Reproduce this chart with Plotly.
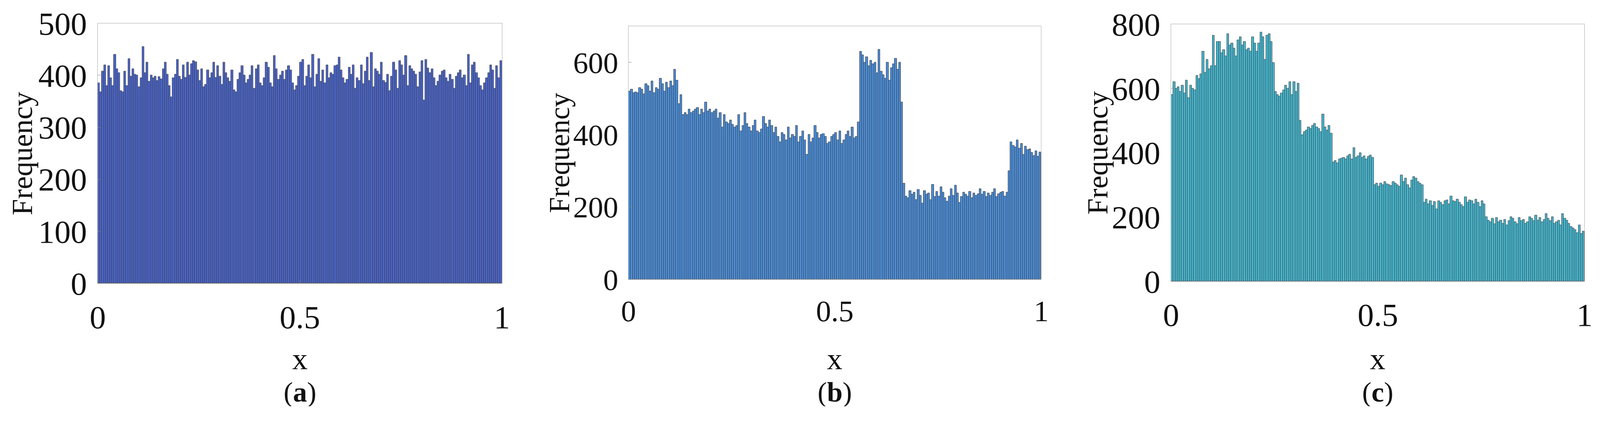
import numpy as np
import plotly.graph_objects as go

a_vals = [385,368,408,420,380,418,395,380,440,412,405,370,368,408,380,432,398,412,402,400,378,395,455,405,425,388,400,395,398,390,397,393,412,425,402,380,358,395,402,430,398,392,420,396,425,400,422,428,426,410,390,412,378,382,410,395,405,425,396,418,398,382,425,405,395,388,410,372,368,392,405,418,400,385,392,400,418,375,412,420,385,380,395,425,415,385,378,438,412,392,400,408,392,410,418,410,385,372,380,398,425,430,380,398,420,395,440,378,402,432,388,410,385,420,395,405,402,418,420,435,410,395,385,392,415,402,420,375,395,390,420,384,408,435,390,444,378,412,408,402,425,390,386,402,370,398,425,410,375,428,420,400,438,380,418,412,408,402,378,406,428,352,430,414,405,412,395,380,388,400,408,410,395,388,402,392,375,398,405,410,395,400,380,440,385,420,425,405,395,380,372,385,395,405,420,410,375,418,395,428]

b_vals = [520,525,515,518,515,530,525,512,540,535,520,548,515,530,525,555,540,520,545,530,548,535,580,
550,485,510,455,460,455,470,460,465,470,475,455,470,460,490,465,470,460,465,470,445,460,420,455,435,430,440,428,420,425,455,410,425,460,430,420,410,425,440,410,405,415,450,430,420,440,425,405,420,395,380,405,400,385,420,390,400,395,425,380,395,410,385,345,400,380,390,425,405,390,400,402,395,375,380,395,400,405,385,410,375,385,400,410,395,420,390,395,
435,630,620,600,615,590,605,595,600,570,635,575,565,555,600,550,585,595,610,580,600,490,
265,230,225,245,235,240,220,248,232,210,245,235,238,220,262,228,242,230,255,240,225,215,230,250,232,260,238,212,228,240,235,230,242,225,238,232,236,250,235,242,228,238,232,240,250,228,236,240,242,230,240,
300,380,370,365,385,362,375,345,368,358,360,350,342,355,340,352]

c_vals = [580,620,600,605,590,610,585,625,570,610,
600,595,640,630,645,715,650,690,660,670,765,670,745,745,710,720,700,770,735,740,725,700,750,760,735,745,720,725,715,760,740,715,740,775,760,690,765,770,745,680,
590,580,575,585,595,610,600,620,580,620,590,615,
500,455,465,470,480,475,485,490,480,475,465,520,480,470,485,460,
370,375,368,380,382,385,380,390,395,380,415,385,390,400,385,390,380,388,392,385,
300,305,295,305,300,310,302,300,298,310,305,300,295,330,310,320,300,290,315,325,320,310,305,300,
245,255,240,250,235,248,225,250,245,238,250,252,240,265,250,248,255,245,238,232,262,245,252,250,240,255,245,232,250,240,
200,190,185,195,178,198,185,190,180,192,175,188,200,195,185,178,198,188,192,180,185,200,195,188,205,190,198,185,192,210,195,188,200,180,185,190,175,210,195,190,180,170,165,160,150,175,148,155]

panels = [
    dict(vals=a_vals, color="#4a64c8", ymax=500, yticks=[0,100,200,300,400,500], label="a",
         xd=[0.0594, 0.3132], yd=[0.305, 0.950], ytx=0.012, tfs=83, ffs=75),
    dict(vals=b_vals, color="#4b8bd4", ymax=700, yticks=[0,200,400,600], label="b",
         xd=[0.3927, 0.6518], yd=[0.315, 0.943], ytx=0.3494, tfs=77, ffs=73),
    dict(vals=c_vals, color="#45b4cc", ymax=800, yticks=[0,200,400,600,800], label="c",
         xd=[0.7334, 0.9930], yd=[0.310, 0.948], ytx=0.6872, tfs=83, ffs=75),
]

FONT = "Liberation Serif"
fig = go.Figure()
annotations = []
for i, p in enumerate(panels, start=1):
    n = len(p["vals"])
    w = 1.0 / n
    xs = (np.arange(n) + 0.5) * w
    fig.add_trace(go.Bar(x=xs, y=p["vals"], width=w, marker=dict(color=p["color"], line=dict(color="#3a3a3a", width=1)),
                         xaxis=f"x{i}", yaxis=f"y{i}", showlegend=False))
    xa = "xaxis" if i == 1 else f"xaxis{i}"
    ya = "yaxis" if i == 1 else f"yaxis{i}"
    fig.layout[xa] = dict(domain=p["xd"], range=[0, 1], anchor=f"y{i}", tickvals=[0, 0.5, 1], ticktext=["0", "0.5", "1"],
                          ticks="inside", ticklen=8, tickcolor="#888", showline=True, linecolor="#aaa", mirror=True,
                          automargin=False, ticklabelstandoff=14,
                          showgrid=False, zeroline=False, tickfont=dict(family=FONT, size=p["tfs"], color="#111"))
    fig.layout[ya] = dict(domain=p["yd"], range=[0, p["ymax"]], anchor=f"x{i}", tickvals=p["yticks"],
                          ticks="inside", ticklen=8, tickcolor="#888", showline=True, linecolor="#aaa", mirror=True,
                          automargin=False, ticklabelstandoff=10,
                          showgrid=False, zeroline=False, tickfont=dict(family=FONT, size=p["tfs"], color="#111"))
    cx = (p["xd"][0] + p["xd"][1]) / 2
    annotations.append(dict(text="x", x=cx, y=0.118, xref="paper", yref="paper", showarrow=False,
                            xanchor="center", yanchor="middle",
                            font=dict(family=FONT, size=79, color="#111")))
    annotations.append(dict(text=f"(<b>{p['label']}</b>)", x=cx, y=0.035, xref="paper", yref="paper", showarrow=False,
                            xanchor="center", yanchor="middle",
                            font=dict(family=FONT, size=72, color="#111")))
    annotations.append(dict(text="Frequency", x=p["ytx"], y=(p["yd"][0] + p["yd"][1]) / 2, xref="paper", yref="paper",
                            xanchor="center", yanchor="middle",
                            showarrow=False, textangle=-90, font=dict(family=FONT, size=p["ffs"], color="#111")))

fig.update_layout(width=4077, height=1033, margin=dict(l=0, r=0, t=0, b=0), plot_bgcolor="white",
                  paper_bgcolor="white", bargap=0, annotations=annotations)
fig.write_html("out.html")
